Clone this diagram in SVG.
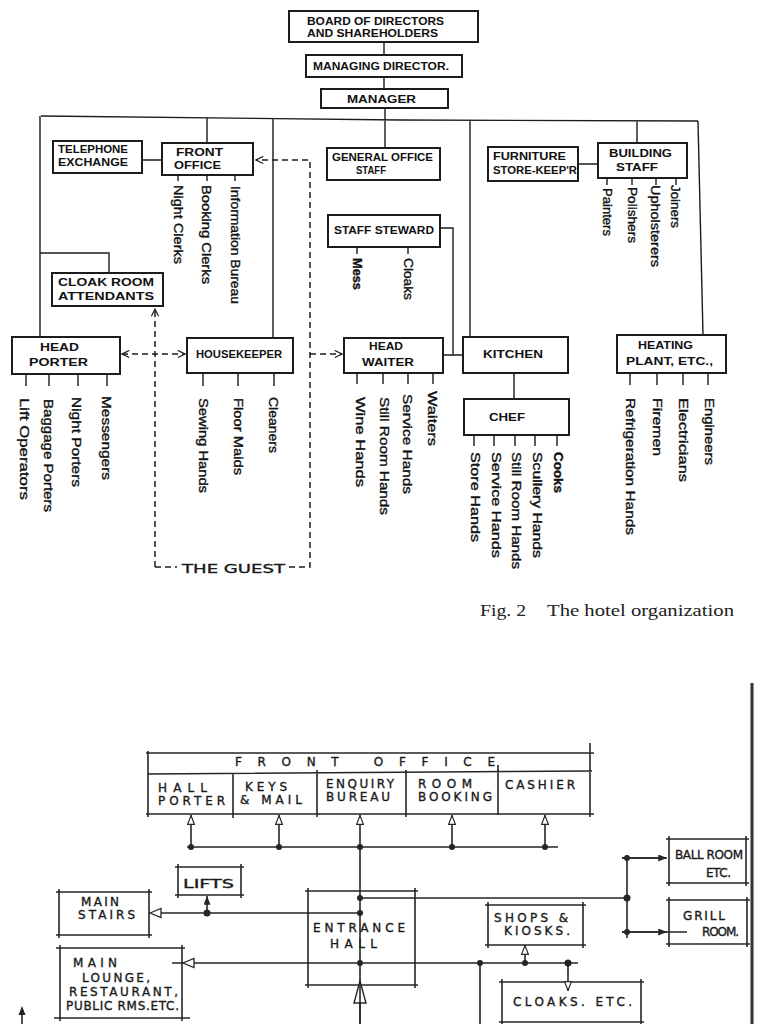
<svg xmlns="http://www.w3.org/2000/svg" width="768" height="1024" viewBox="0 0 768 1024">
<style>
.box{fill:#fff;stroke:#1c1c1c;stroke-width:2}
.ln{fill:none;stroke:#1c1c1c;stroke-width:1.4}
.dash{fill:none;stroke:#1c1c1c;stroke-width:1.5;stroke-dasharray:6 4}
.lbl{font-family:"Liberation Sans",Arial,sans-serif;font-weight:bold;font-size:10px;fill:#111}
.leaf{font-family:"Liberation Sans",Arial,sans-serif;font-size:12px;fill:#111;stroke:#111;stroke-width:0.35;dominant-baseline:central}
.cap{font-family:"Liberation Serif","Times New Roman",serif;font-size:17px;fill:#222}
.bl{fill:none;stroke:#262626;stroke-width:1.6}
.bbox{fill:#fff;stroke:none}
.hand{font-family:"DejaVu Sans","Liberation Sans",sans-serif;font-size:12px;fill:#1a1a1a;stroke:#1a1a1a;stroke-width:0.35}
.dot{fill:#262626}
</style>
<defs>
<marker id="v" viewBox="0 0 10 10" refX="9" refY="5" markerWidth="9" markerHeight="9" markerUnits="userSpaceOnUse" orient="auto-start-reverse"><path d="M1,1 L9,5 L1,9" fill="none" stroke="#1c1c1c" stroke-width="1.3"/></marker>
<marker id="tri" viewBox="0 0 10 8" refX="10" refY="4" markerWidth="10" markerHeight="8" markerUnits="userSpaceOnUse" orient="auto"><path d="M0.6,0.6 L9.4,4 L0.6,7.4 Z" fill="#fff" stroke="#262626" stroke-width="1.2"/></marker>
<marker id="fil" viewBox="0 0 10 8" refX="10" refY="4" markerWidth="9" markerHeight="7" markerUnits="userSpaceOnUse" orient="auto"><path d="M0,0 L10,4 L0,8 Z" fill="#262626"/></marker>
</defs>
<rect width="768" height="1024" fill="#fff"/>

<!-- ===== Top chart connectors ===== -->
<g id="connectors-top">
<path class="ln" d="M384,42 V56 M384,77 V89 M385,108 V148 M41,116 L400,120 L698,121 M40,116 V337 M40,253 H109 V273 M207,118 V143 M273,119 V338 M470,120 V337 M637,121 V143 M698,121 L703,335 M142,160 H162 M578,164 H598 M440,228 H453 V355 M443,355 H463 M514,373 V399"/>
<path class="dash" d="M155,567 V309" marker-end="url(#v)"/>
<path class="dash" d="M155,567 H177"/>
<path class="dash" d="M289,567 H310 V160 H256" marker-end="url(#v)"/>
<path class="dash" d="M310,354 H342" marker-end="url(#v)"/>
<path class="dash" d="M122,354 H185" marker-start="url(#v)" marker-end="url(#v)"/>
<text x="182" y="573" class="hand" font-size="13.5" textLength="103" lengthAdjust="spacingAndGlyphs">THE GUEST</text>
</g>

<g id="board"><rect class="box" x="289" y="11" width="189" height="31"/>
<text class="lbl" x="307" y="25" textLength="137" lengthAdjust="spacingAndGlyphs">BOARD OF DIRECTORS</text>
<text class="lbl" x="307" y="37" textLength="131" lengthAdjust="spacingAndGlyphs">AND SHAREHOLDERS</text></g>
<g id="managing-director"><rect class="box" x="306" y="55" width="156" height="22"/>
<text class="lbl" x="313" y="70" textLength="136" lengthAdjust="spacingAndGlyphs">MANAGING DIRECTOR.</text></g>
<g id="manager"><rect class="box" x="321" y="89" width="127" height="19"/>
<text class="lbl" x="347" y="103" textLength="69" lengthAdjust="spacingAndGlyphs">MANAGER</text></g>

<g id="telephone-exchange"><rect class="box" x="53" y="141" width="89" height="32"/>
<text class="lbl" x="58" y="153" textLength="70" lengthAdjust="spacingAndGlyphs">TELEPHONE</text>
<text class="lbl" x="58" y="166" textLength="70" lengthAdjust="spacingAndGlyphs">EXCHANGE</text></g>

<g id="front-office"><rect class="box" x="162" y="143" width="91" height="32"/>
<text class="lbl" x="176" y="156" textLength="47" lengthAdjust="spacingAndGlyphs">FRONT</text>
<text class="lbl" x="174" y="169" textLength="47" lengthAdjust="spacingAndGlyphs">OFFICE</text>
<path class="ln" d="M178,175 V181 M207,175 V181 M235,175 V181"/>
<text class="leaf" transform="translate(178,185) rotate(90)" textLength="79" lengthAdjust="spacingAndGlyphs">Night Clerks</text>
<text class="leaf" transform="translate(206,185) rotate(90)" textLength="99" lengthAdjust="spacingAndGlyphs">Booking Clerks</text>
<text class="leaf" transform="translate(235,186) rotate(90)" textLength="118" lengthAdjust="spacingAndGlyphs">Information Bureau</text></g>

<g id="general-office-staff"><rect class="box" x="327" y="148" width="113" height="32"/>
<text class="lbl" x="332" y="161" textLength="101" lengthAdjust="spacingAndGlyphs">GENERAL OFFICE</text>
<text class="lbl" x="356" y="174" textLength="30" lengthAdjust="spacingAndGlyphs">STAFF</text></g>

<g id="staff-steward"><rect class="box" x="328" y="215" width="112" height="32"/>
<text class="lbl" x="334" y="234" textLength="100" lengthAdjust="spacingAndGlyphs">STAFF STEWARD</text>
<path class="ln" d="M357,247 V254 M408,247 V254"/>
<text class="leaf" transform="translate(357,258) rotate(90)" textLength="32" lengthAdjust="spacingAndGlyphs" font-weight="bold">Mess</text>
<text class="leaf" transform="translate(408,258) rotate(90)" textLength="42" lengthAdjust="spacingAndGlyphs">Cloaks</text></g>

<g id="furniture-store-keeper"><rect class="box" x="488" y="147" width="90" height="34"/>
<text class="lbl" x="493" y="160" textLength="73" lengthAdjust="spacingAndGlyphs">FURNITURE</text>
<text class="lbl" x="493" y="174" textLength="84" lengthAdjust="spacingAndGlyphs">STORE-KEEP'R</text></g>

<g id="building-staff"><rect class="box" x="598" y="143" width="89" height="35"/>
<text class="lbl" x="609" y="157" textLength="63" lengthAdjust="spacingAndGlyphs">BUILDING</text>
<text class="lbl" x="616" y="171" textLength="42" lengthAdjust="spacingAndGlyphs">STAFF</text>
<path class="ln" d="M607,178 V185 M632,178 V185 M656,178 V185 M676,178 V185"/>
<text class="leaf" transform="translate(607,188) rotate(90)" textLength="48" lengthAdjust="spacingAndGlyphs">Painters</text>
<text class="leaf" transform="translate(632,187) rotate(90)" textLength="56" lengthAdjust="spacingAndGlyphs">Polishers</text>
<text class="leaf" transform="translate(655,185) rotate(90)" textLength="82" lengthAdjust="spacingAndGlyphs">Upholsterers</text>
<text class="leaf" transform="translate(675,185) rotate(90)" textLength="43" lengthAdjust="spacingAndGlyphs">Joiners</text></g>

<g id="cloak-room-attendants"><rect class="box" x="52" y="273" width="111" height="33"/>
<text class="lbl" x="58" y="286" textLength="96" lengthAdjust="spacingAndGlyphs">CLOAK ROOM</text>
<text class="lbl" x="58" y="300" textLength="96" lengthAdjust="spacingAndGlyphs">ATTENDANTS</text></g>

<g id="head-porter"><rect class="box" x="12" y="337" width="108" height="37"/>
<text class="lbl" x="40" y="351" textLength="39" lengthAdjust="spacingAndGlyphs">HEAD</text>
<text class="lbl" x="29" y="366" textLength="59" lengthAdjust="spacingAndGlyphs">PORTER</text>
<path class="ln" d="M26,374 V386 M49,374 V386 M78,374 V386 M107,374 V386"/>
<text class="leaf" transform="translate(24,398) rotate(90)" textLength="102" lengthAdjust="spacingAndGlyphs">Lift Operators</text>
<text class="leaf" transform="translate(48,399) rotate(90)" textLength="113" lengthAdjust="spacingAndGlyphs">Baggage Porters</text>
<text class="leaf" transform="translate(76,397) rotate(90)" textLength="90" lengthAdjust="spacingAndGlyphs">Night Porters</text>
<text class="leaf" transform="translate(106,396) rotate(90)" textLength="84" lengthAdjust="spacingAndGlyphs" fill="#777" stroke="#777">Messengers</text></g>

<g id="housekeeper"><rect class="box" x="187" y="338" width="106" height="35"/>
<text class="lbl" x="196" y="358" font-size="9" textLength="86" lengthAdjust="spacingAndGlyphs">HOUSEKEEPER</text>
<path class="ln" d="M203,373 V386 M238,373 V386 M274,373 V386"/>
<text class="leaf" transform="translate(203,398) rotate(90)" textLength="95" lengthAdjust="spacingAndGlyphs">Sewing Hands</text>
<text class="leaf" transform="translate(238,398) rotate(90)" textLength="77" lengthAdjust="spacingAndGlyphs">Floor Maids</text>
<text class="leaf" transform="translate(273,397) rotate(90)" textLength="56" lengthAdjust="spacingAndGlyphs">Cleaners</text></g>

<g id="head-waiter"><rect class="box" x="344" y="338" width="99" height="35"/>
<text class="lbl" x="369" y="350" textLength="34" lengthAdjust="spacingAndGlyphs">HEAD</text>
<text class="lbl" x="362" y="366" textLength="52" lengthAdjust="spacingAndGlyphs">WAITER</text>
<path class="ln" d="M357,373 V384 M383,373 V384 M408,373 V384 M433,373 V384"/>
<text class="leaf" transform="translate(360,397) rotate(90)" textLength="90" lengthAdjust="spacingAndGlyphs">Wine Hands</text>
<text class="leaf" transform="translate(384,397) rotate(90)" textLength="118" lengthAdjust="spacingAndGlyphs">Still Room Hands</text>
<text class="leaf" transform="translate(407,394) rotate(90)" textLength="100" lengthAdjust="spacingAndGlyphs">Service Hands</text>
<text class="leaf" transform="translate(432,391) rotate(90)" textLength="55" lengthAdjust="spacingAndGlyphs">Waiters</text></g>

<g id="kitchen"><rect class="box" x="463" y="337" width="105" height="36"/>
<text class="lbl" x="483" y="358" textLength="60" lengthAdjust="spacingAndGlyphs">KITCHEN</text></g>

<g id="chef"><rect class="box" x="464" y="399" width="105" height="36"/>
<text class="lbl" x="489" y="421" textLength="36" lengthAdjust="spacingAndGlyphs">CHEF</text>
<path class="ln" d="M474,435 V446 M494,435 V446 M515,435 V446 M535,435 V446 M557,435 V446"/>
<text class="leaf" transform="translate(475,452) rotate(90)" textLength="90" lengthAdjust="spacingAndGlyphs">Store Hands</text>
<text class="leaf" transform="translate(496,452) rotate(90)" textLength="106" lengthAdjust="spacingAndGlyphs">Service Hands</text>
<text class="leaf" transform="translate(516,452) rotate(90)" textLength="117" lengthAdjust="spacingAndGlyphs">Still Room Hands</text>
<text class="leaf" transform="translate(537,452) rotate(90)" textLength="106" lengthAdjust="spacingAndGlyphs">Scullery Hands</text>
<text class="leaf" transform="translate(558,452) rotate(90)" textLength="41" lengthAdjust="spacingAndGlyphs" font-weight="bold">Cooks</text></g>

<g id="heating-plant"><rect class="box" x="617" y="335" width="109" height="38"/>
<text class="lbl" x="638" y="349" textLength="55" lengthAdjust="spacingAndGlyphs">HEATING</text>
<text class="lbl" x="626" y="365" textLength="87" lengthAdjust="spacingAndGlyphs">PLANT, ETC.,</text>
<path class="ln" d="M630,373 V385 M657,373 V385 M683,373 V385 M708,373 V385"/>
<text class="leaf" transform="translate(630,398) rotate(90)" textLength="137" lengthAdjust="spacingAndGlyphs">Refrigeration Hands</text>
<text class="leaf" transform="translate(657,398) rotate(90)" textLength="58" lengthAdjust="spacingAndGlyphs">Firemen</text>
<text class="leaf" transform="translate(683,398) rotate(90)" textLength="84" lengthAdjust="spacingAndGlyphs">Electricians</text>
<text class="leaf" transform="translate(709,398) rotate(90)" textLength="67" lengthAdjust="spacingAndGlyphs">Engineers</text></g>

<g id="caption">
<text class="cap" x="480" y="616" textLength="46" lengthAdjust="spacingAndGlyphs">Fig. 2</text>
<text class="cap" x="547" y="616" textLength="187" lengthAdjust="spacingAndGlyphs">The hotel organization</text>
</g>

<!-- ===== Bottom chart ===== -->
<line x1="752" y1="683" x2="752" y2="1024" stroke="#333" stroke-width="3"/>

<g id="front-office-counter">
<path class="bl" d="M146,753 H594 M148,751 V817 M590,743 V817 M148,774 L592,771 M146,814 H594 M233,774 V818 M317,770 V817 M406,770 V817 M498,765 V815"/>
<text class="hand" x="235" y="766" font-size="11.5" textLength="260" lengthAdjust="spacing">FRONT OFFICE</text>
<text class="hand" x="158" y="792" font-size="10.5" textLength="49" lengthAdjust="spacing">HALL</text>
<text class="hand" x="158" y="805" font-size="10.5" textLength="67" lengthAdjust="spacing">PORTER</text>
<text class="hand" x="245" y="791" font-size="10.5" textLength="42" lengthAdjust="spacing">KEYS</text>
<text class="hand" x="240" y="804" font-size="10.5" textLength="62" lengthAdjust="spacing">&amp; MAIL</text>
<text class="hand" x="326" y="788" font-size="10.5" textLength="68" lengthAdjust="spacing">ENQUIRY</text>
<text class="hand" x="326" y="801" font-size="10.5" textLength="64" lengthAdjust="spacing">BUREAU</text>
<text class="hand" x="418" y="788" font-size="10.5" textLength="54" lengthAdjust="spacing">ROOM</text>
<text class="hand" x="418" y="801" font-size="10.5" textLength="74" lengthAdjust="spacing">BOOKING</text>
<text class="hand" x="505" y="789" font-size="10.5" textLength="70" lengthAdjust="spacing">CASHIER</text>
</g>

<g id="lifts"><rect class="bbox" x="178" y="867" width="63" height="28"/>
<path class="bl" d="M175,867 H244 M175,895 H244 M178,864 V898 M241,864 V898"/>
<text class="hand" x="183" y="888" font-size="16" textLength="51" lengthAdjust="spacingAndGlyphs">LIFTS</text></g>

<g id="main-stairs"><rect class="bbox" x="59" y="892" width="90" height="43"/>
<path class="bl" d="M56,892 H152 M56,935 H152 M59,889 V938 M149,889 V938"/>
<text class="hand" x="81" y="906" font-size="11" textLength="38" lengthAdjust="spacing">MAIN</text>
<text class="hand" x="78" y="919" font-size="11" textLength="57" lengthAdjust="spacing">STAIRS</text></g>

<g id="entrance-hall">
<path class="bl" d="M305,891 H418 M305,985 H418 M308,888 V988 M415,888 V988"/>
<text class="hand" x="313" y="932" font-size="14" textLength="92" lengthAdjust="spacing">ENTRANCE</text>
<text class="hand" x="330" y="948" font-size="14" textLength="47" lengthAdjust="spacing">HALL</text></g>

<g id="shops-kiosks"><rect class="bbox" x="488" y="905" width="95" height="40"/>
<path class="bl" d="M485,905 H586 M485,945 H586 M488,902 V948 M583,902 V948"/>
<text class="hand" x="494" y="922" font-size="12.5" textLength="74" lengthAdjust="spacing">SHOPS &amp;</text>
<text class="hand" x="504" y="935" font-size="12.5" textLength="66" lengthAdjust="spacing">KIOSKS.</text></g>

<g id="ball-room"><rect class="bbox" x="669" y="839" width="77" height="44"/>
<path class="bl" d="M666,839 H749 M666,883 H749 M669,836 V886 M746,836 V886"/>
<text class="hand" x="675" y="859" font-size="11" textLength="68" lengthAdjust="spacing">BALL ROOM</text>
<text class="hand" x="706" y="877" font-size="11" textLength="25" lengthAdjust="spacing">ETC.</text></g>

<g id="grill-room"><rect class="bbox" x="669" y="900" width="78" height="44"/>
<path class="bl" d="M666,900 H750 M666,944 H750 M669,897 V947 M747,897 V947"/>
<text class="hand" x="683" y="920" font-size="11" textLength="42" lengthAdjust="spacing">GRILL</text>
<text class="hand" x="702" y="936" font-size="11" textLength="37" lengthAdjust="spacing">ROOM.</text></g>

<g id="main-lounge"><rect class="bbox" x="60" y="948" width="122" height="70"/>
<path class="bl" d="M56,948 H185 M54,1018 H190 M60,945 V1021 M182,945 V1021"/>
<text class="hand" x="73" y="967" font-size="11.5" textLength="44" lengthAdjust="spacing">MAIN</text>
<text class="hand" x="82" y="982" font-size="11.5" textLength="68" lengthAdjust="spacing">LOUNGE,</text>
<text class="hand" x="69" y="996" font-size="11.5" textLength="109" lengthAdjust="spacing">RESTAURANT,</text>
<text class="hand" x="66" y="1010" font-size="10.5" textLength="113" lengthAdjust="spacing">PUBLIC RMS.ETC.</text></g>

<g id="cloaks"><rect class="bbox" x="502" y="982" width="139" height="40"/>
<path class="bl" d="M499,982 H644 M499,1022 H644 M502,979 V1024 M641,979 V1024"/>
<text class="hand" x="513" y="1006" font-size="13.5" textLength="119" lengthAdjust="spacing">CLOAKS. ETC.</text></g>

<g id="connectors-bottom">
<path class="bl" d="M187,847 H558 M360,847 V1024 M360,913 H160 M360,898 H627 M627,855 V938 M622,858 H666 M622,932 H666 M666,932 H687 M172,963 H578 M480,963 V1024 M22,1012 V1024"/>
<path class="bl" d="M191,847 V815" marker-end="url(#tri)"/>
<path class="bl" d="M279,847 V815" marker-end="url(#tri)"/>
<path class="bl" d="M360,847 V815" marker-end="url(#tri)"/>
<path class="bl" d="M452,847 V815" marker-end="url(#tri)"/>
<path class="bl" d="M545,847 V815" marker-end="url(#tri)"/>
<path class="bl" d="M207,913 V896" marker-end="url(#fil)"/>
<path class="bl" d="M622,858 H667" marker-end="url(#fil)"/>
<path class="bl" d="M622,932 H667" marker-end="url(#fil)"/>
<path class="bl" d="M525,963 V945" marker-end="url(#tri)"/>
<path class="bl" d="M568,963 V991" marker-end="url(#tri)"/>
<polygon points="150,913 161,908.5 161,917.5" fill="#fff" stroke="#262626" stroke-width="1.3"/>
<polygon points="183,963 194,958.5 194,967.5" fill="#fff" stroke="#262626" stroke-width="1.3"/>
<polygon points="360,981 354,1003 366,1003" fill="#fff" stroke="#262626" stroke-width="1.4"/>
<line x1="360" y1="981" x2="360" y2="1024" stroke="#262626" stroke-width="1.6"/>
<polygon points="22,1006 18.5,1015 25.5,1015" fill="#262626"/>
<circle class="dot" cx="191" cy="847" r="3"/><circle class="dot" cx="279" cy="847" r="3"/><circle class="dot" cx="360" cy="847" r="3"/><circle class="dot" cx="452" cy="847" r="3"/><circle class="dot" cx="545" cy="847" r="3"/>
<circle class="dot" cx="360" cy="898" r="3"/><circle class="dot" cx="360" cy="913" r="3"/><circle class="dot" cx="207" cy="913" r="3.5"/><circle class="dot" cx="360" cy="963" r="3"/>
<circle class="dot" cx="480" cy="963" r="3"/><circle class="dot" cx="525" cy="963" r="3"/><circle class="dot" cx="568" cy="963" r="3.5"/>
<circle class="dot" cx="627" cy="858" r="3"/><circle class="dot" cx="627" cy="898" r="3.5"/><circle class="dot" cx="627" cy="932" r="3"/>
</g>
</svg>
